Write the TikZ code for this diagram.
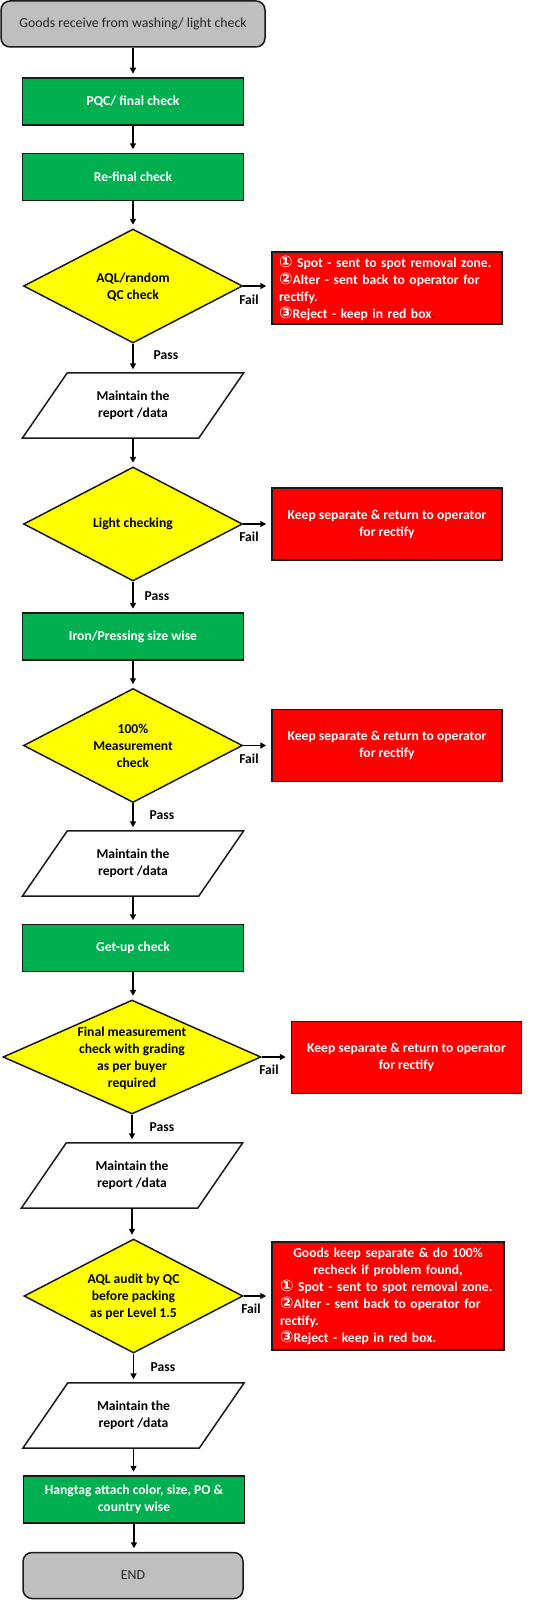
\documentclass[tikz,border=0pt]{standalone}
\usepackage{fontspec}
\setmainfont{Carlito}
\newfontfamily\dejavu{DejaVu Sans}
\usetikzlibrary{shapes.geometric,arrows.meta}
\definecolor{qgreen}{HTML}{00B050}
\definecolor{qyellow}{HTML}{FFFF00}
\definecolor{qred}{HTML}{FF0000}
\definecolor{qgray}{HTML}{BFBFBF}
\definecolor{edge}{HTML}{1A1A1A}
\newcommand{\cnum}[1]{{\dejavu\fontsize{16}{17}\selectfont #1}}
\newcommand{\lline}[1]{\makebox[216pt][l]{#1}}
\begin{document}
\begin{tikzpicture}[x=1pt,y=-1pt,
  txt/.style={font=\bfseries\fontsize{13.6}{17}\selectfont},
  procbox/.style={draw=edge, line width=1.5pt, fill=qgreen, text=white, txt, align=center,
    minimum width=221pt, minimum height=47pt, inner sep=2pt},
  termbox/.style={draw=edge, line width=1.5pt, fill=qgray, text=black!85,
    font=\fontsize{13.8}{17}\selectfont, align=center, rounded corners=9pt,
    minimum height=46pt, inner sep=2pt},
  decbox/.style={diamond, draw=edge, line width=1.5pt, fill=qyellow,
    minimum width=219pt, minimum height=114pt, inner sep=0pt},
  dectext/.style={txt, text=black, align=center},
  databox/.style={rectangle, txt, text=black, align=center,
    minimum width=176pt, minimum height=65pt, inner sep=0pt},
  datashape/.style={draw=edge, line width=1.5pt, line join=miter},
  failbox/.style={draw=edge, line width=1.5pt, fill=qred, text=white, txt, align=center,
    minimum width=230pt, minimum height=72pt, inner xsep=7pt},
  lbl/.style={txt, text=black},
  arr/.style={line width=1.8pt, draw=black, -{Triangle[length=6pt,width=6pt]}, shorten >=3.5pt},
  farr/.style={arr, shorten >=5pt}]
\useasboundingbox (0,0) rectangle (539,1600);

\node[termbox, minimum width=264pt] (start) at (133,24) {Goods receive from washing/ light check};
\node[procbox] (pqc) at (133,101.5) {PQC/ final check};
\node[procbox] (refin) at (133,177) {Re-final check};
\node[decbox] (d1) at (133,286) {};
\node[dectext] (d1t) at (133,287) {AQL/random\\QC check};
\node[failbox, text width=216pt] (r1) at (387,288) {\lline{\cnum{①} Spot - sent to spot removal zone.}\\\lline{\cnum{②}Alter - sent back to operator for}\\\lline{rectify.}\\\lline{\cnum{③}Reject - keep in red box{\color{black}.}}};
\node[databox] (p1) at (133,405.5) {Maintain the\\report /data};
\node[decbox] (d2) at (133,524) {};
\node[dectext] (d2t) at (133,524) {Light checking};
\node[failbox] (r2) at (387,524) {Keep separate \& return to operator\\for rectify};
\node[procbox] (iron) at (133,636.5) {Iron/Pressing size wise};
\node[decbox] (d3) at (133,745.5) {};
\node[dectext] (d3t) at (133,746) {100\%\\Measurement\\check};
\node[failbox] (r3) at (387,745.5) {Keep separate \& return to operator\\for rectify};
\node[databox] (p2) at (133,863.5) {Maintain the\\report /data};
\node[procbox] (getup) at (133,948) {Get-up check};
\node[decbox, minimum width=258pt] (d4) at (132,1057) {};
\node[dectext] (d4t) at (132,1058) {Final measurement\\check with grading\\as per buyer\\required};
\node[failbox] (r4) at (406.5,1057.5) {Keep separate \& return to operator\\for rectify};
\node[databox] (p3) at (132,1175.5) {Maintain the\\report /data};
\node[decbox] (d5) at (133.5,1296) {};
\node[dectext] (d5t) at (133.5,1297) {AQL audit by QC\\before packing\\as per Level 1.5};
\node[failbox, minimum width=232pt, minimum height=108pt, text width=216pt] (r5) at (388,1296) {Goods keep separate \& do 100\%\\recheck if problem found,\\\lline{\cnum{①} Spot - sent to spot removal zone.}\\\lline{\cnum{②}Alter - sent back to operator for}\\\lline{rectify.}\\\lline{\cnum{③}Reject - keep in red box.}};
\node[databox] (p4) at (133.5,1415.5) {Maintain the\\report /data};
\node[procbox] (hang) at (134,1499.5) {Hangtag attach color, size, PO \&\\country wise};
\node[termbox, minimum width=220pt] (endn) at (133,1575.5) {END};

% parallelogram outlines around the data nodes
\foreach \n in {p1,p2,p3,p4}{
  \draw[datashape] ([xshift=22.5pt]\n.north west) -- ([xshift=22.5pt]\n.north east)
    -- ([xshift=-22.5pt]\n.south east) -- ([xshift=-22.5pt]\n.south west) -- cycle;
}

% vertical connectors
\draw[arr] (start.south) -- (pqc.north);
\draw[arr] (pqc.south) -- (refin.north);
\draw[arr] (refin.south) -- (d1.north);
\draw[arr] (d1.south) -- (d1.south |- p1.north);
\draw[arr] (p1.south) -- (p1.south |- d2.north);
\draw[arr] (d2.south) -- (iron.north);
\draw[arr] (iron.south) -- (d3.north);
\draw[arr] (d3.south) -- (d3.south |- p2.north);
\draw[arr] (p2.south) -- (p2.south |- getup.north);
\draw[arr] (getup.south) -- (getup.south |- d4.north);
\draw[arr] (d4.south) -- (d4.south |- p3.north);
\draw[arr] (p3.south) -- (p3.south |- d5.north);
\draw[arr] (d5.south) -- (d5.south |- p4.north);
\draw[arr] (p4.south) -- (p4.south |- hang.north);
\draw[arr] (hang.south) -- (hang.south |- endn.north);

% fail connectors
\draw[farr] (d1.east) -- (d1.east -| r1.west);
\draw[farr] (d2.east) -- (d2.east -| r2.west);
\draw[farr] (d3.east) -- (d3.east -| r3.west);
\draw[farr] (d4.east) -- (d4.east -| r4.west);
\draw[farr] (d5.east) -- (d5.east -| r5.west);

% labels
\node[lbl] (f1) at (249,300) {Fail};
\node[lbl] (f2) at (249,537) {Fail};
\node[lbl] (f3) at (249,759) {Fail};
\node[lbl] (f4) at (269,1070) {Fail};
\node[lbl] (f5) at (251,1309) {Fail};
\node[lbl] (s1) at (166,355) {Pass};
\node[lbl] (s2) at (157,596) {Pass};
\node[lbl] (s3) at (162,815) {Pass};
\node[lbl] (s4) at (162,1127) {Pass};
\node[lbl] (s5) at (163,1367) {Pass};
\end{tikzpicture}
\end{document}
